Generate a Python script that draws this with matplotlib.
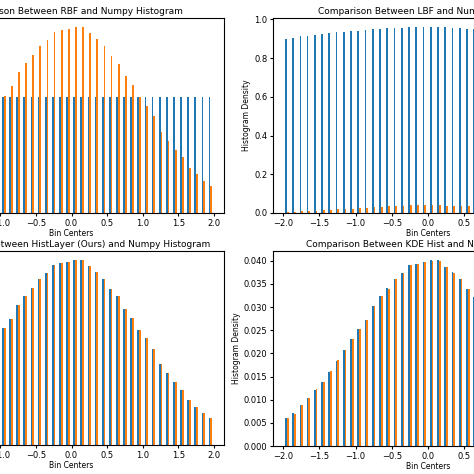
import matplotlib.pyplot as plt
import numpy as np

# bin centers, -1.95 .. 1.95
centers = np.round(np.arange(-1.95, 2.0, 0.1), 2)

# numpy histogram density (orange)
numpy_hist = [0.0060, 0.0070, 0.0088, 0.0103, 0.0122, 0.0139, 0.0161, 0.0185, 0.0208, 0.0231,
              0.0253, 0.0273, 0.0303, 0.0323, 0.0340, 0.0360, 0.0373, 0.0390, 0.0394, 0.0397,
              0.0400, 0.0400, 0.0387, 0.0374, 0.0360, 0.0338, 0.0322, 0.0295, 0.0276, 0.0250,
              0.0231, 0.0208, 0.0175, 0.0156, 0.0136, 0.0120, 0.0098, 0.0083, 0.0070, 0.0058]

rbf_hist = [0.025] * 40

lbf_hist = [0.900, 0.905, 0.912, 0.916, 0.919, 0.926, 0.930, 0.934, 0.937, 0.940,
            0.942, 0.945, 0.948, 0.951, 0.953, 0.955, 0.956, 0.958, 0.958, 0.959,
            0.959, 0.959, 0.958, 0.956, 0.954, 0.952, 0.950, 0.948, 0.946, 0.944,
            0.942, 0.940, 0.937, 0.934, 0.931, 0.928, 0.924, 0.920, 0.916, 0.912]

histlayer_hist = [v * 1.0 for v in numpy_hist]
kde_hist = [0.0060, 0.0071, 0.0088, 0.0103, 0.0121, 0.0139, 0.0160, 0.0184, 0.0208, 0.0232,
            0.0253, 0.0272, 0.0303, 0.0324, 0.0341, 0.0360, 0.0373, 0.0390, 0.0394, 0.0398,
            0.0401, 0.0401, 0.0387, 0.0375, 0.0361, 0.0339, 0.0322, 0.0296, 0.0276, 0.0251,
            0.0231, 0.0208, 0.0176, 0.0156, 0.0137, 0.0120, 0.0099, 0.0083, 0.0070, 0.0059]

panels = [
    ("Comparison Between RBF and Numpy Histogram", rbf_hist, [-81, 213, 305, 195]),
    ("Comparison Between LBF and Numpy Histogram", lbf_hist, [273, 213, 310, 195]),
    ("Comparison Between HistLayer (Ours) and Numpy Histogram", histlayer_hist, [-81, 445, 305, 194]),
    ("Comparison Between KDE Hist and Numpy Histogram", kde_hist, [273, 446, 310, 195]),
]

W = 474
fig = plt.figure(figsize=(4.74, 4.74), dpi=100)
for title, ours, (x0, ybot, w, h) in panels:
    ax = fig.add_axes([x0 / W, (W - ybot) / W, w / W, h / W])
    ax.bar(centers - 0.012, ours, width=0.024, color="#1f77b4")
    ax.bar(centers + 0.012, numpy_hist, width=0.024, color="#ff7f0e")
    ax.set_xlim(-2.14, 2.14)
    ax.set_title(title, fontsize=6.5, pad=3)
    ax.set_xlabel("Bin Centers", fontsize=5.5, labelpad=1)
    ax.set_ylabel("Histogram Density", fontsize=5.5, labelpad=2)
    ax.tick_params(labelsize=6, length=2.5, pad=1.5)

fig.savefig("out.png", dpi=100)
